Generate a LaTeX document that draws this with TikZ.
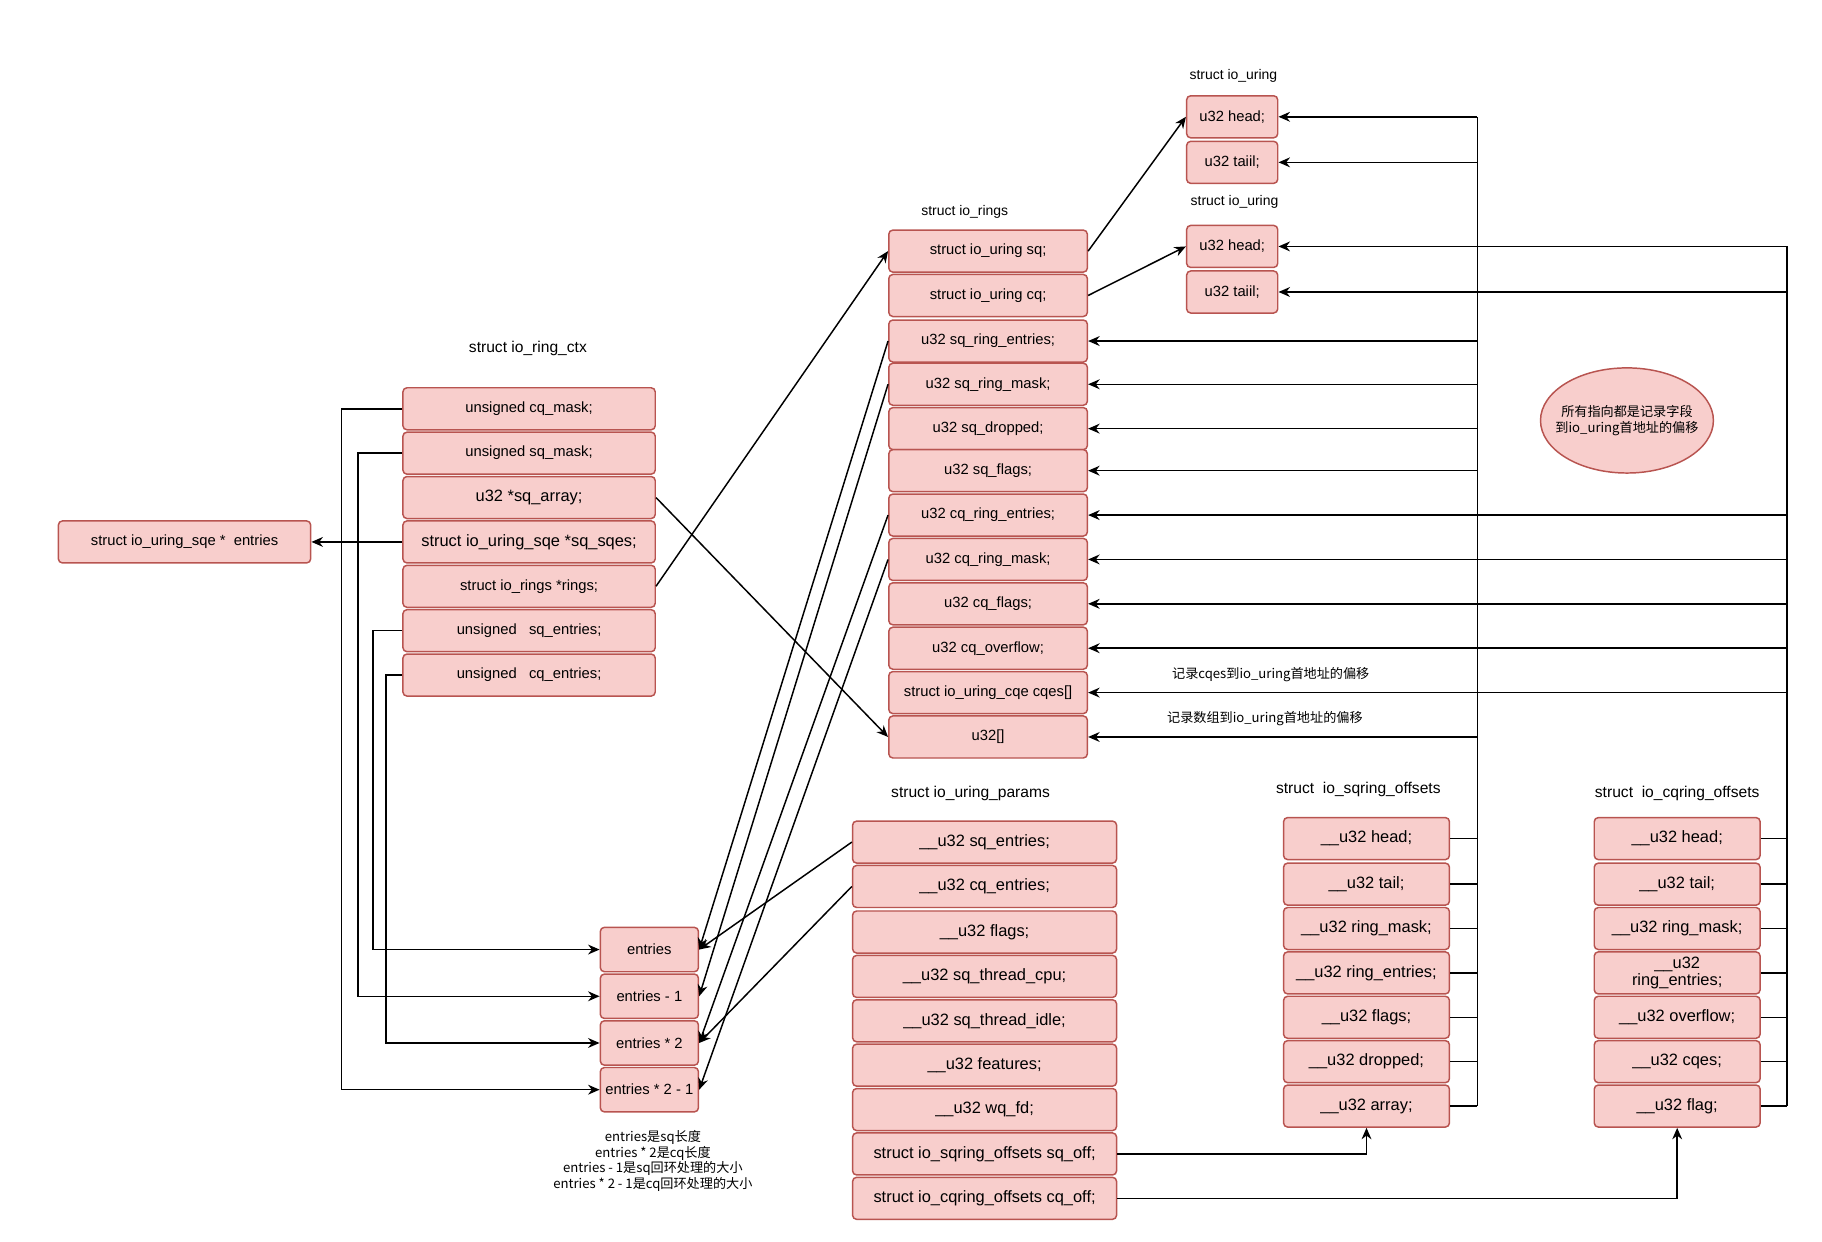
\documentclass[tikz,border=0pt]{standalone}
\usepackage{fontspec}
\setmainfont{Liberation Sans}
\newfontfamily\cjk{Noto Sans CJK SC}
\usetikzlibrary{arrows.meta,shapes.geometric}
\definecolor{boxfill}{HTML}{F8CECC}
\definecolor{boxline}{HTML}{B85450}

\tikzset{
    field/.style={draw=boxline, fill=boxfill, line width=0.9pt, rounded corners=2.5pt,
        minimum height=0.9cm, inner sep=1pt, align=center, font=\fontsize{9}{10}\selectfont},
    bigfield/.style={field, font=\fontsize{10}{11}\selectfont},
    title/.style={font=\fontsize{8.5}{10}\selectfont},
    link/.style={line width=0.9pt, -{Stealth[length=7pt,width=6pt]}},
    wire/.style={line width=0.9pt},
    note/.style={font=\cjk\fontsize{8}{9.5}\selectfont, align=center}
}

\begin{document}
\begin{tikzpicture}[x=0.025cm, y=-0.025cm]
    \useasboundingbox (0,0) rectangle (1560,1063);

    % io_ring_ctx
    \node[title, font=\fontsize{9.5}{11}\selectfont] (ctxtitle) at (452,298) {struct io\_ring\_ctx};
    \node[field, minimum width=5.4cm] (cqmask) at (453,350) {unsigned cq\_mask;};
    \node[field, minimum width=5.4cm] (sqmask) at (453,388) {unsigned sq\_mask;};
    \node[bigfield, minimum width=5.4cm] (sqarray) at (453,426) {u32 *sq\_array;};
    \node[bigfield, minimum width=5.4cm] (sqsqes) at (453,464) {struct io\_uring\_sqe *sq\_sqes;};
    \node[field, minimum width=5.4cm] (rings) at (453,502) {struct io\_rings *rings;};
    \node[field, minimum width=5.4cm] (sqentries) at (453,540) {unsigned\ \ \ sq\_entries;};
    \node[field, minimum width=5.4cm] (cqentries) at (453,578) {unsigned\ \ \ cq\_entries;};

    \node[field, minimum width=5.4cm] (sqeentries) at (158,464) {struct io\_uring\_sqe *\ \ entries};

    % entries
    \node[field, minimum width=2.1cm, minimum height=0.95cm] (ent) at (556,813) {entries};
    \node[field, minimum width=2.1cm, minimum height=0.95cm] (entm) at (556,853) {entries - 1};
    \node[field, minimum width=2.1cm, minimum height=0.95cm] (entt) at (556,893) {entries * 2};
    \node[field, minimum width=2.1cm, minimum height=0.95cm] (enttm) at (556,933) {entries * 2 - 1};
    \node[note, anchor=north] (entnote) at (559,963) {entries是sq长度\\entries * 2是cq长度\\entries - 1是sq回环处理的大小\\entries * 2 - 1是cq回环处理的大小};

    % io_rings
    \node[title] (ringstitle) at (826,181) {struct io\_rings};
    \foreach \name/\y/\txt in {rsq/215/struct io\_uring sq;, rcq/253/struct io\_uring cq;,
        rsqre/292/u32 sq\_ring\_entries;, rsqrm/329/u32 sq\_ring\_mask;, rsqd/367/u32 sq\_dropped;,
        rsqf/403/u32 sq\_flags;, rcqre/441/u32 cq\_ring\_entries;, rcqrm/479/u32 cq\_ring\_mask;,
        rcqf/517/u32 cq\_flags;, rcqo/555/u32 cq\_overflow;, rcqes/593/struct io\_uring\_cqe cqes[],
        rarr/631/u32[]}
        \node[field, minimum width=4.25cm] (\name) at (846,\y) {\txt};

    % io_uring sq / cq
    \node[title] (sqtitle) at (1056,65) {struct io\_uring};
    \node[field, minimum width=1.95cm] (sqhead) at (1055,100) {u32 head;};
    \node[field, minimum width=1.95cm] (sqtail) at (1055,139) {u32 taiil;};
    \node[title] (cqtitle) at (1057,173) {struct io\_uring};
    \node[field, minimum width=1.95cm] (cqhead) at (1055,211) {u32 head;};
    \node[field, minimum width=1.95cm] (cqtail) at (1055,250) {u32 taiil;};

    \node[draw=boxline, fill=boxfill, line width=0.9pt, ellipse, minimum width=3.7cm, minimum height=2.25cm,
        align=center, font=\cjk\fontsize{8}{9.5}\selectfont, inner sep=-7pt] (allnote) at (1393,360)
        {所有指向都是记录字段\\到io\_uring首地址的偏移};

    % io_uring_params
    \node[title, font=\fontsize{9.5}{11}\selectfont] (paramstitle) at (831,679) {struct io\_uring\_params};
    \foreach \name/\y/\txt in {psqe/721/\_\_u32 sq\_entries;, pcqe/759/\_\_u32 cq\_entries;,
        pflags/798/\_\_u32 flags;, pcpu/836/\_\_u32 sq\_thread\_cpu;, pidle/874/\_\_u32 sq\_thread\_idle;,
        pfeat/912/\_\_u32 features;, pwq/950/\_\_u32 wq\_fd;, psqoff/988/struct io\_sqring\_offsets sq\_off;,
        pcqoff/1026/struct io\_cqring\_offsets cq\_off;}
        \node[bigfield, minimum width=5.65cm] (\name) at (843,\y) {\txt};

    % io_sqring_offsets
    \node[title, font=\fontsize{9.5}{11}\selectfont] (sqofftitle) at (1163,676) {struct\ \ io\_sqring\_offsets};
    \foreach \name/\y/\txt in {shead/718/\_\_u32 head;, stail/757/\_\_u32 tail;, smask/795/\_\_u32 ring\_mask;,
        sent/833/\_\_u32 ring\_entries;, sflags/871/\_\_u32 flags;, sdrop/909/\_\_u32 dropped;, sarr/947/\_\_u32 array;}
        \node[bigfield, minimum width=3.55cm] (\name) at (1170,\y) {\txt};

    % io_cqring_offsets
    \node[title, font=\fontsize{9.5}{11}\selectfont] (cqofftitle) at (1436,679) {struct\ \ io\_cqring\_offsets};
    \foreach \name/\y/\txt in {chead/718/\_\_u32 head;, ctail/757/\_\_u32 tail;, cmask/795/\_\_u32 ring\_mask;,
        cent/833/\_\_u32\\ring\_entries;, cover/871/\_\_u32 overflow;, ccqes/909/\_\_u32 cqes;, cflag/947/\_\_u32 flag;}
        \node[bigfield, minimum width=3.55cm, font=\fontsize{10}{9}\selectfont] (\name) at (1436,\y) {\txt};

    % ctx links
    \draw[link] (sqsqes.west) -- (sqeentries.east);
    \draw[link] (cqmask.west) -- ++(-52,0) |- (enttm.west);
    \draw[link] (sqmask.west) -- ++(-38,0) |- (entm.west);
    \draw[link] (sqentries.west) -- ++(-25,0) |- (ent.west);
    \draw[link] (cqentries.west) -- ++(-14,0) |- (entt.west);
    \draw[link] (rings.east) -- (rsq.west);
    \draw[link] (sqarray.east) -- (rarr.west);

    % rings to entries
    \draw[link] (rsqre.west) -- (ent.east);
    \draw[link] (rsqrm.west) -- (entm.east);
    \draw[link] (rcqre.west) -- (entt.east);
    \draw[link] (rcqrm.west) -- (enttm.east);
    \draw[link] (psqe.west) -- (ent.east);
    \draw[link] (pcqe.west) -- (entt.east);

    \draw[link] (rsq.east) -- (sqhead.west);
    \draw[link] (rcq.east) -- (cqhead.west);

    % sq offsets
    \coordinate (sbus) at (1265,100);
    \draw[wire] (sbus) -- (1265,947);
    \foreach \b in {shead,stail,smask,sent,sflags,sdrop,sarr}
        \draw[wire] (\b.east) -- (1265,0 |- \b.east);
    \foreach \t in {sqhead,sqtail,rsqre,rsqrm,rsqd,rsqf,rarr}
        \draw[link] (1265,0 |- \t.east) -- (\t.east);

    % cq offsets
    \draw[wire] (1530,211) -- (1530,947);
    \foreach \b in {chead,ctail,cmask,cent,cover,ccqes,cflag}
        \draw[wire] (\b.east) -- (1530,0 |- \b.east);
    \foreach \t in {cqhead,cqtail,rcqre,rcqrm,rcqf,rcqo,rcqes}
        \draw[link] (1530,0 |- \t.east) -- (\t.east);

    \node[note] (cqesnote) at (1088,578) {记录cqes到io\_uring首地址的偏移};
    \node[note] (arrnote) at (1083,615) {记录数组到io\_uring首地址的偏移};

    \draw[link] (psqoff.east) -| (sarr.south);
    \draw[link] (pcqoff.east) -| (cflag.south);
\end{tikzpicture}
\end{document}
